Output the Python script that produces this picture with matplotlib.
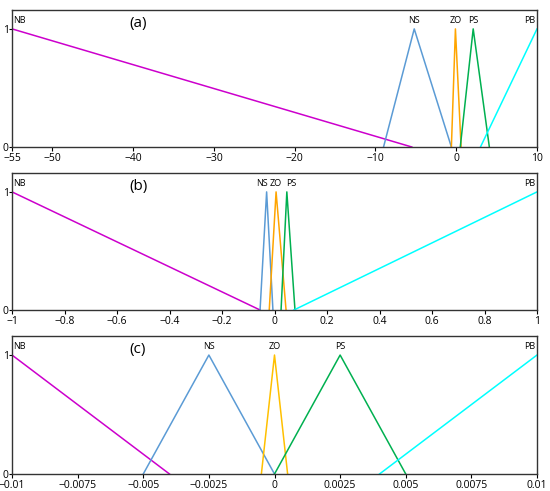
import matplotlib
matplotlib.use("Agg")
import matplotlib.pyplot as plt

plt.rcParams['font.family'] = ['Open Sans', 'DejaVu Sans']
plt.rcParams['axes.unicode_minus'] = True

labels = ['NB', 'NS', 'ZO', 'PS', 'PB']
colors = ['#cc00cc', '#5b9bd5', '#ffa500', '#00b050', '#00ffff']
a_sets = [([-55, -5.5], [1, 0]), ([-9, -5.2, -0.6], [0, 1, 0]), ([-0.6, -0.1, 0.6], [0, 1, 0]),
          ([0.5, 2.1, 4.1], [0, 1, 0]), ([3, 10], [0, 1])]
b_sets = [([-1, -0.055], [1, 0]), ([-0.055, -0.03, -0.006], [0, 1, 0]), ([-0.02, 0.006, 0.044], [0, 1, 0]),
          ([0.025, 0.047, 0.078], [0, 1, 0]), ([0.074, 1], [0, 1])]
c_sets = [([-0.01, -0.004], [1, 0]), ([-0.005, -0.0025, 0], [0, 1, 0]), ([-0.0005, 0, 0.0005], [0, 1, 0]),
          ([0, 0.0025, 0.005], [0, 1, 0]), ([0.004, 0.01], [0, 1])]
a_ticks = [-55, -50, -40, -30, -20, -10, 0, 10]
b_ticks = [-1, -0.8, -0.6, -0.4, -0.2, 0, 0.2, 0.4, 0.6, 0.8, 1]
c_ticks = [-0.01, -0.0075, -0.005, -0.0025, 0, 0.0025, 0.005, 0.0075, 0.01]
c_ticklabels = ['−0.01', '−0.0075', '−0.005', '−0.0025', '0', '0.0025', '0.005', '0.0075', '0.01']

fig = plt.figure(figsize=(5.5, 4.91), dpi=100)
W, H = 550, 491
L = 12
panels = [(a_sets, a_ticks, None, '(a)', 10, 147, 'a'), (b_sets, b_ticks, None, '(b)', 173, 310, 'b'),
          (c_sets, c_ticks, c_ticklabels, '(c)', 336, 474, 'c')]
for sets, ticks, tl, tag, top, bot, key in panels:
    ax = fig.add_axes([L / W, 1 - bot / H, (537 - L) / W, (bot - top) / H])
    span = ticks[-1] - ticks[0]
    for i, ((xs, ys), lab, col) in enumerate(zip(sets, labels, colors)):
        c = col
        if key == 'c' and lab == 'ZO':
            c = '#ffc000'
        ax.plot(xs, ys, color=c, lw=1.1)
        if len(xs) == 3:
            lx = xs[1]
            if key == 'b':
                lx += (i - 2) * 0.018 * span / 2
            ax.text(lx, 1.03, lab, ha='center', va='bottom', fontsize=6.5)
    ax.text(ticks[0] + 0.003 * span, 1.03, 'NB', ha='left', va='bottom', fontsize=6.5)
    ax.text(ticks[-1] - 0.003 * span, 1.03, 'PB', ha='right', va='bottom', fontsize=6.5)
    ax.set_xlim(ticks[0], ticks[-1])
    ax.set_ylim(0, 1.16)
    ax.set_xticks(ticks)
    if tl:
        ax.set_xticklabels(tl)
    else:
        ax.set_xticklabels([('−' if t < 0 else '') + (f'{abs(t):g}') for t in ticks])
    ax.set_yticks([0, 1])
    ax.tick_params(labelsize=7.5, length=3, pad=1)
    ax.tick_params(axis='y', pad=0.5, length=2)
    ax.text(0.24, 0.9, tag, transform=ax.transAxes, fontsize=11, ha='center', va='center')
    for s in ax.spines.values():
        s.set_linewidth(1.0)
        s.set_color('#333333')

fig.savefig('out.png', dpi=100)
